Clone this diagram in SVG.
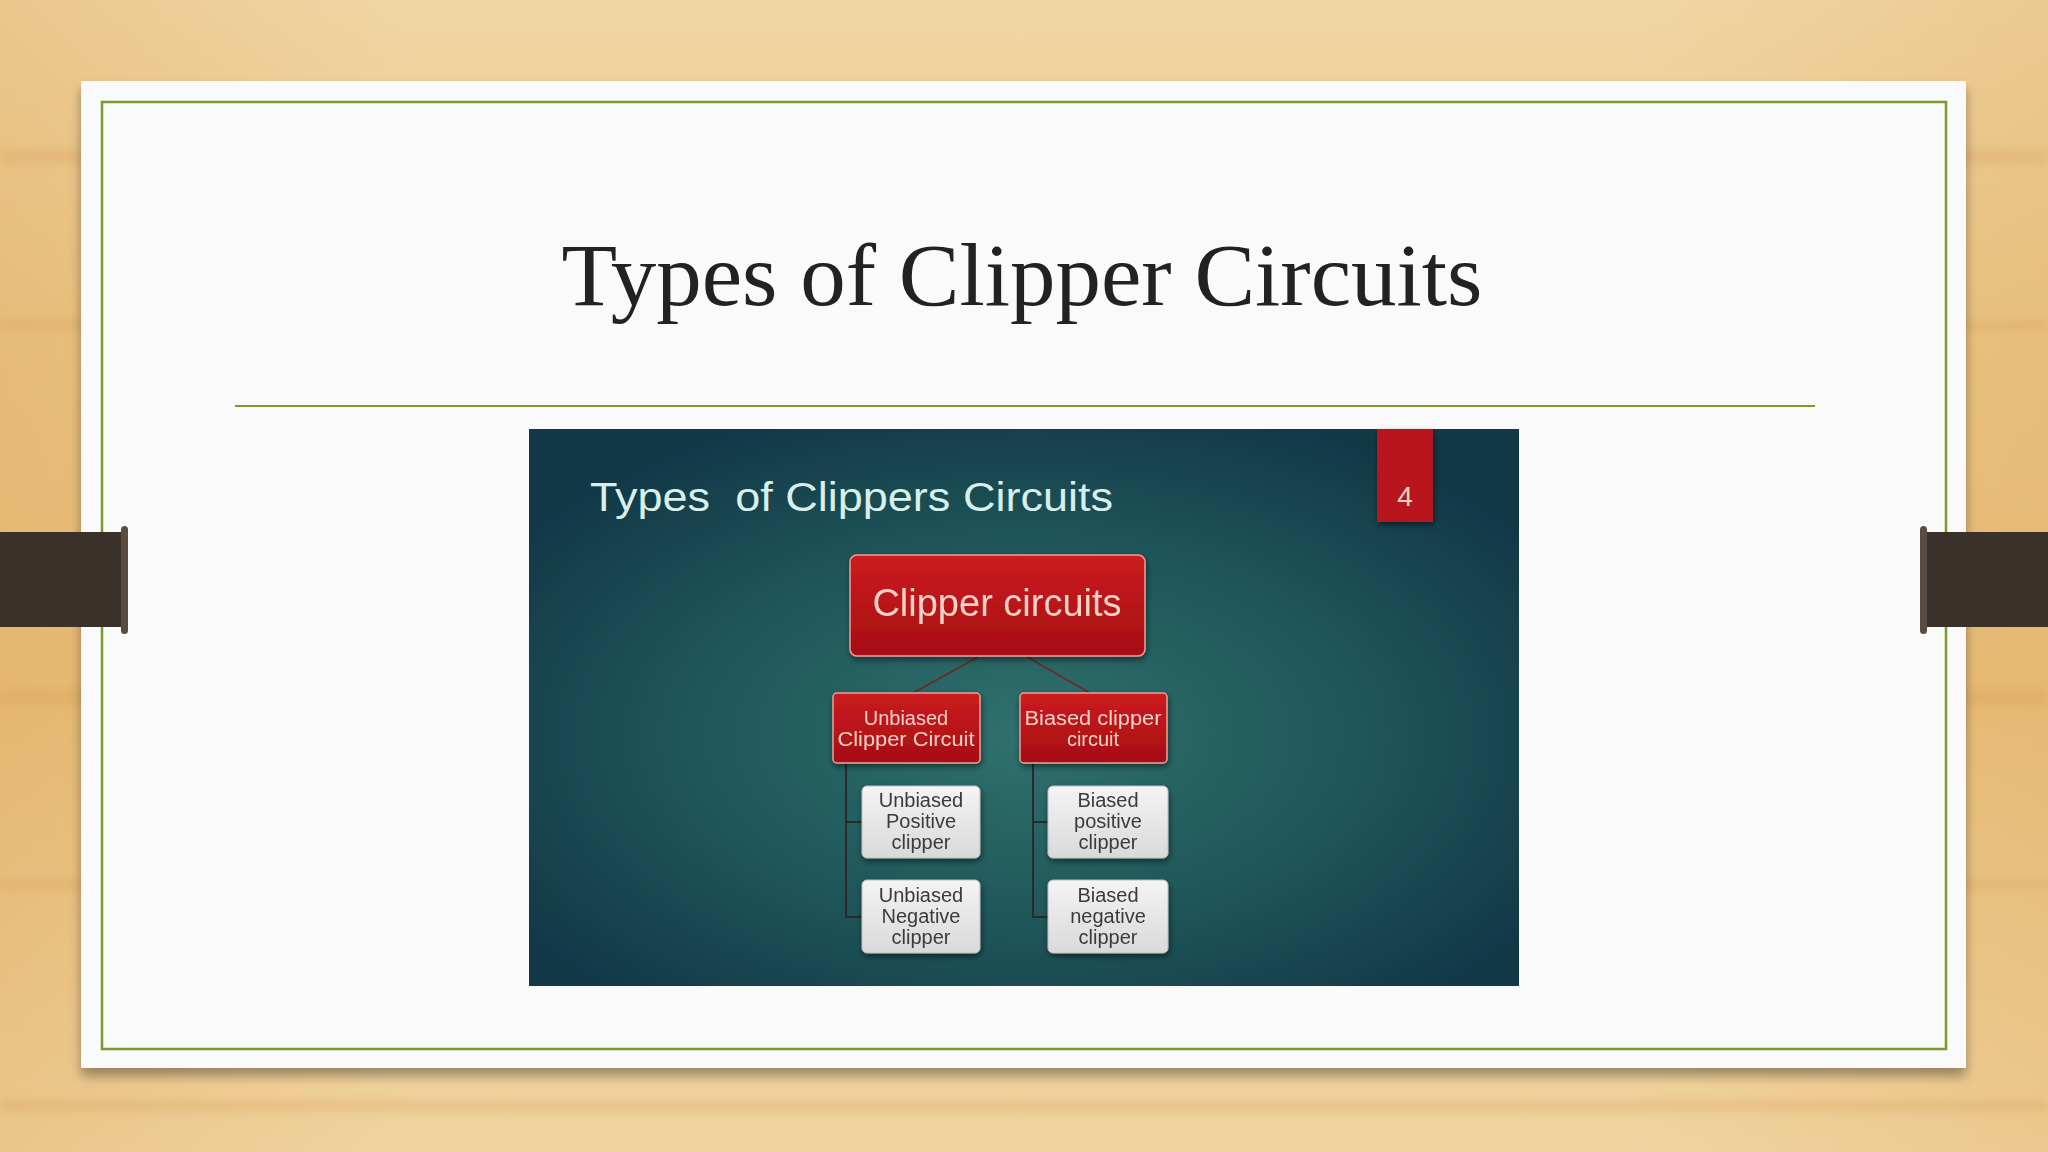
<svg xmlns="http://www.w3.org/2000/svg" width="2048" height="1152" viewBox="0 0 2048 1152">
<defs>
<linearGradient id="wood" x1="0" y1="0" x2="0" y2="1">
<stop offset="0" stop-color="#f0d6a4"/>
<stop offset="0.3" stop-color="#ebc686"/>
<stop offset="0.6" stop-color="#e9c07c"/>
<stop offset="1" stop-color="#f0d4a0"/>
</linearGradient>
<linearGradient id="woodx" x1="0" y1="0" x2="1" y2="0">
<stop offset="0" stop-color="#d99a4a" stop-opacity="0.25"/>
<stop offset="0.2" stop-color="#d99a4a" stop-opacity="0"/>
<stop offset="0.8" stop-color="#d99a4a" stop-opacity="0"/>
<stop offset="1" stop-color="#d99a4a" stop-opacity="0.2"/>
</linearGradient>
<radialGradient id="teal" cx="0.5" cy="0.55" r="0.62">
<stop offset="0" stop-color="#2f716e"/>
<stop offset="0.55" stop-color="#1f5659"/>
<stop offset="1" stop-color="#123848"/>
</radialGradient>
<linearGradient id="red" x1="0" y1="0" x2="0" y2="1">
<stop offset="0" stop-color="#cc1c20"/>
<stop offset="1" stop-color="#a50e12"/>
</linearGradient>
<linearGradient id="grey" x1="0" y1="0" x2="0" y2="1">
<stop offset="0" stop-color="#f4f4f4"/>
<stop offset="1" stop-color="#d9d9d9"/>
</linearGradient>
<filter id="sh" x="-10%" y="-10%" width="130%" height="140%">
<feGaussianBlur in="SourceAlpha" stdDeviation="3"/>
<feOffset dx="1" dy="3"/>
<feComponentTransfer><feFuncA type="linear" slope="0.5"/></feComponentTransfer>
<feMerge><feMergeNode/><feMergeNode in="SourceGraphic"/></feMerge>
</filter>
<filter id="slsh" x="-5%" y="-5%" width="110%" height="115%">
<feGaussianBlur in="SourceAlpha" stdDeviation="6"/>
<feOffset dx="0" dy="8"/>
<feComponentTransfer><feFuncA type="linear" slope="0.35"/></feComponentTransfer>
<feMerge><feMergeNode/><feMergeNode in="SourceGraphic"/></feMerge>
</filter>
<filter id="blur"><feGaussianBlur stdDeviation="4"/></filter>
</defs>
<style>
.rbox{fill:url(#red);stroke:#e8a098;stroke-width:1.5}
.gbox{fill:url(#grey);stroke:#bdbdbd;stroke-width:1}
.wt{font-family:"Liberation Sans","DejaVu Sans",sans-serif;fill:#f6d2c8;text-anchor:middle}
.dt{font-family:"Liberation Sans","DejaVu Sans",sans-serif;fill:#3a3a3a;text-anchor:middle;font-size:20px}
.conn{stroke:#6a2a22;stroke-width:1.6;fill:none}
.stem{stroke:#2a2a2a;stroke-width:2;fill:none}
</style>
<!-- background wood -->
<rect x="0" y="0" width="2048" height="1152" fill="url(#wood)"/>
<rect x="0" y="0" width="2048" height="1152" fill="url(#woodx)"/>
<g opacity="0.25" fill="#d49a52" filter="url(#blur)">
<rect x="0" y="150" width="2048" height="14"/>
<rect x="0" y="320" width="2048" height="10"/>
<rect x="0" y="690" width="2048" height="16"/>
<rect x="0" y="880" width="2048" height="10"/>
<rect x="0" y="1100" width="2048" height="12"/>
</g>
<!-- slide -->
<rect x="81" y="81" width="1885" height="987" fill="#fafafa" filter="url(#slsh)"/>
<rect x="102" y="102" width="1844" height="947" fill="none" stroke="#7a9a28" stroke-width="2.5"/>
<!-- clips -->
<g id="clip-left">
<rect x="0" y="532" width="127" height="95" fill="#3a312b"/>
<rect x="121" y="526" width="7" height="108" rx="3.5" fill="#5a4c40"/>
</g>
<g id="clip-right">
<rect x="1921" y="532" width="127" height="95" fill="#3a312b"/>
<rect x="1920" y="526" width="7" height="108" rx="3.5" fill="#5a4c40"/>
</g>
<text x="1022" y="305" font-family="'Liberation Serif','DejaVu Serif',serif" font-size="88" fill="#222" text-anchor="middle" textLength="921" lengthAdjust="spacingAndGlyphs">Types of Clipper Circuits</text>
<line x1="235" y1="406" x2="1815" y2="406" stroke="#7a9a28" stroke-width="2"/>
<!-- embedded picture -->
<g id="picture">
<rect x="529" y="429" width="990" height="557" fill="url(#teal)"/>
<text x="590" y="511" font-family="'Liberation Sans','DejaVu Sans',sans-serif" font-size="40" fill="#d8f0ec" textLength="523" lengthAdjust="spacingAndGlyphs" xml:space="preserve">Types  of Clippers Circuits</text>
<g id="page-tab">
<rect x="1377" y="429" width="56" height="93" fill="#b8161a" filter="url(#sh)"/>
<text x="1405" y="506" class="wt" font-size="28" fill="#f4e0dc">4</text>
</g>
</g>
<g id="connectors">
<line class="conn" x1="978" y1="657" x2="913" y2="693"/>
<line class="conn" x1="1027" y1="657" x2="1090" y2="693"/>
<polyline class="stem" points="846,763 846,917 862,917"/>
<line class="stem" x1="846" y1="822" x2="862" y2="822"/>
<polyline class="stem" points="1033,763 1033,917 1048,917"/>
<line class="stem" x1="1033" y1="822" x2="1048" y2="822"/>
</g>
<g id="node-root" filter="url(#sh)">
<rect class="rbox" x="850" y="555" width="295" height="101" rx="7"/>
<text class="wt" x="997" y="616" font-size="38">Clipper circuits</text>
</g>
<g id="node-unbiased" filter="url(#sh)">
<rect class="rbox" x="833" y="693" width="147" height="70" rx="4"/>
<text class="wt" x="906" y="725" font-size="20">Unbiased</text>
<text class="wt" x="906" y="746" font-size="20" textLength="137" lengthAdjust="spacingAndGlyphs">Clipper Circuit</text>
</g>
<g id="node-biased" filter="url(#sh)">
<rect class="rbox" x="1020" y="693" width="147" height="70" rx="4"/>
<text class="wt" x="1093" y="725" font-size="20" textLength="137" lengthAdjust="spacingAndGlyphs">Biased clipper</text>
<text class="wt" x="1093" y="746" font-size="20">circuit</text>
</g>
<g id="node-unbiased-positive" filter="url(#sh)">
<rect class="gbox" x="862" y="786" width="118" height="72" rx="5"/>
<text class="dt" x="921" y="807">Unbiased</text>
<text class="dt" x="921" y="828">Positive</text>
<text class="dt" x="921" y="849">clipper</text>
</g>
<g id="node-unbiased-negative" filter="url(#sh)">
<rect class="gbox" x="862" y="880" width="118" height="73" rx="5"/>
<text class="dt" x="921" y="902">Unbiased</text>
<text class="dt" x="921" y="923">Negative</text>
<text class="dt" x="921" y="944">clipper</text>
</g>
<g id="node-biased-positive" filter="url(#sh)">
<rect class="gbox" x="1048" y="786" width="120" height="72" rx="5"/>
<text class="dt" x="1108" y="807">Biased</text>
<text class="dt" x="1108" y="828">positive</text>
<text class="dt" x="1108" y="849">clipper</text>
</g>
<g id="node-biased-negative" filter="url(#sh)">
<rect class="gbox" x="1048" y="880" width="120" height="73" rx="5"/>
<text class="dt" x="1108" y="902">Biased</text>
<text class="dt" x="1108" y="923">negative</text>
<text class="dt" x="1108" y="944">clipper</text>
</g>
</svg>
